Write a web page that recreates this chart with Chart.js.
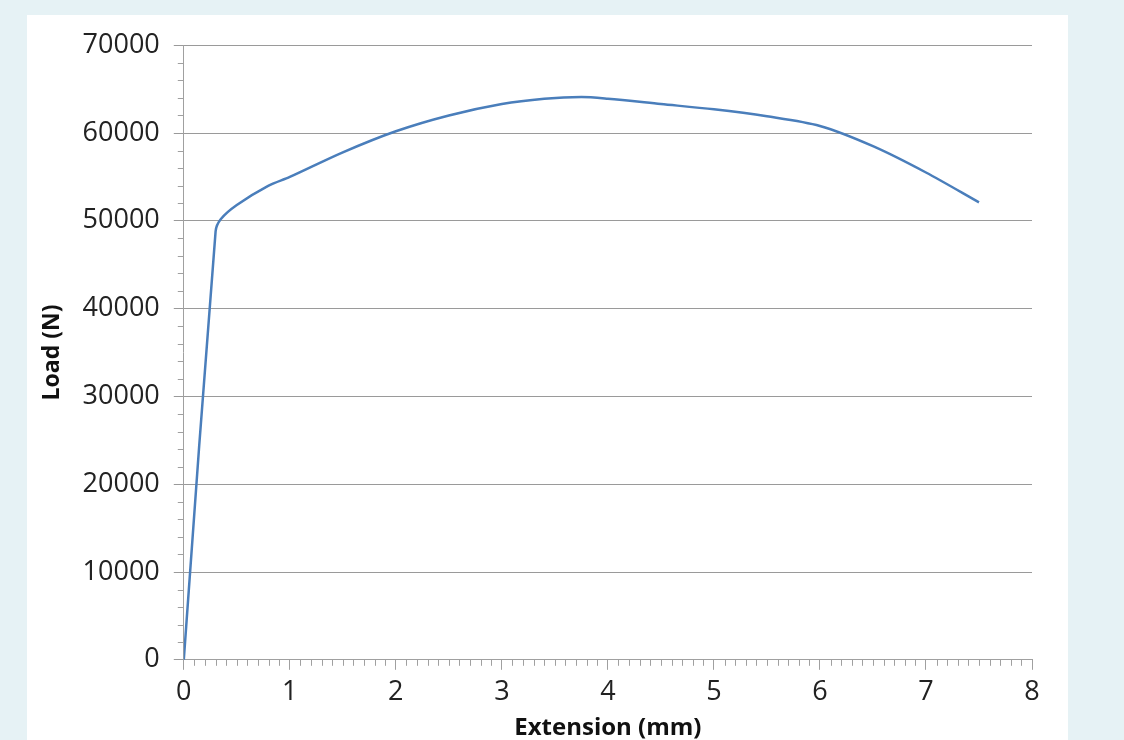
<!DOCTYPE html>
<html><head><meta charset="utf-8">
<script src="https://cdn.jsdelivr.net/npm/chart.js@4/dist/chart.umd.min.js"></script>
<style>
html,body{margin:0;padding:0;background:#e6f2f5;width:1124px;height:740px;overflow:hidden}
#panel{position:absolute;left:27px;top:15px;width:1041px;height:725px;background:#fff;overflow:hidden}
#wrap{position:absolute;left:0;top:0;width:1041px;height:760px}
</style></head><body>
<div id="panel"><div id="wrap"><canvas id="c"></canvas></div></div>
<script>
const extension = [0,0.3,0.35,0.5,0.8,1,1.5,2,2.5,3,3.4,3.75,4,4.5,5,5.5,6,6.5,7,7.5];
const load = [0,48800,50200,51800,54000,55000,57800,60200,62000,63300,63900,64100,63900,63300,62700,61900,60800,58500,55500,52100];
const xTicks = [0,1,2,3,4,5,6,7,8];
const yTicks = [0,10000,20000,30000,40000,50000,60000,70000];

const minorTicks = {
  id:'minor',
  afterDraw(ch){
    const c=ch.ctx, x=ch.scales.x, y=ch.scales.y;
    c.save(); c.strokeStyle='#a0a0a0'; c.lineWidth=1;
    c.beginPath();
    for(let i=1;i<80;i++){ if(i%10===0) continue; const px=Math.round(x.getPixelForValue(i/10))+0.5; c.moveTo(px,y.bottom); c.lineTo(px,y.bottom+6);}
    for(let v=2000;v<70000;v+=2000){ if(v%10000===0) continue; const py=Math.round(y.getPixelForValue(v))+0.5; c.moveTo(x.left-6,py); c.lineTo(x.left,py);}
    c.stroke(); c.restore();
  }
};

new Chart(document.getElementById('c'),{
  type:'line',
  data:{datasets:[{data:extension.map((e,i)=>({x:e,y:load[i]})),borderColor:'#4a7ebb',borderWidth:2.5,pointRadius:0,tension:0.3,fill:false}]},
  options:{
    responsive:true,maintainAspectRatio:false,animation:false,
    layout:{padding:{left:8,right:36,top:10,bottom:28}},
    plugins:{legend:{display:false},tooltip:{enabled:false}},
    scales:{
      x:{type:'linear',min:0,max:8,
        afterBuildTicks(s){s.ticks=xTicks.map(v=>({value:v}));},
        grid:{display:true,drawOnChartArea:false,drawTicks:true,tickLength:10,color:'#a0a0a0'},
        border:{color:'#a0a0a0'},
        ticks:{font:{family:'Open Sans',size:27},color:'#222',padding:6,maxRotation:0,callback:v=>String(v)},
        title:{display:true,text:'Extension (mm)',font:{family:'Open Sans',size:24,weight:'bold'},color:'#111',padding:{top:0}}
      },
      y:{min:0,max:70000,
        afterBuildTicks(s){s.ticks=yTicks.map(v=>({value:v}));},
        grid:{color:'#9a9a9a',tickLength:10,lineWidth:1},
        border:{color:'#a0a0a0'},
        ticks:{font:{family:'Open Sans',size:27},color:'#222',padding:14,callback:v=>String(v)},
        title:{display:true,text:'Load (N)',font:{family:'Open Sans',size:23,weight:'bold'},color:'#111',padding:{bottom:2}}
      }
    }
  },
  plugins:[minorTicks]
});
</script></body></html>
